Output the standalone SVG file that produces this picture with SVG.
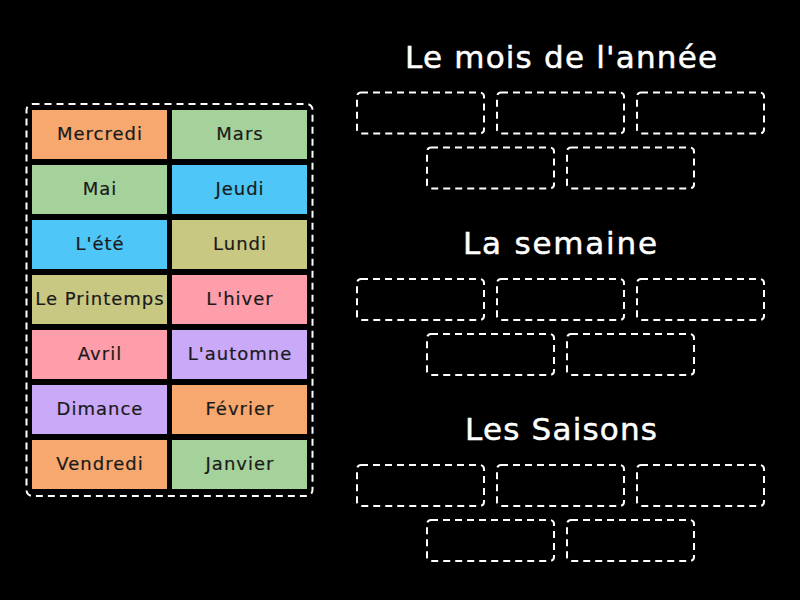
<svg xmlns="http://www.w3.org/2000/svg" width="800" height="600" viewBox="0 0 800 600">
<style>
.bg{fill:#000}
.cell text{font-family:"DejaVu Sans","Noto Sans",sans-serif;font-size:18px;letter-spacing:1px;fill:#1a1a1a;stroke:#1a1a1a;stroke-width:0.2;text-anchor:middle}
.drop{fill:none;stroke:#fff;stroke-width:2;stroke-dasharray:7 5}
.title{font-family:"DejaVu Sans","Noto Sans",sans-serif;font-size:31px;fill:#fff;stroke:#fff;stroke-width:0.5;text-anchor:middle}
.o{fill:#f6a86f}.g{fill:#a4d29a}.b{fill:#4ec6f7}.y{fill:#c9c882}.p{fill:#fe9eab}.v{fill:#c9a9f8}
</style>
<rect class="bg" x="0" y="0" width="800" height="600"/>
<g id="tray">
<rect class="drop" x="26.5" y="104" width="286" height="392" rx="6"/>
</g>
<g id="c1" class="cell"><rect class="o" x="32" y="110" width="135" height="49"/><text x="100" y="140">Mercredi</text></g>
<g id="c2" class="cell"><rect class="g" x="172" y="110" width="135" height="49"/><text x="240" y="140">Mars</text></g>
<g id="c3" class="cell"><rect class="g" x="32" y="165" width="135" height="49"/><text x="100" y="195">Mai</text></g>
<g id="c4" class="cell"><rect class="b" x="172" y="165" width="135" height="49"/><text x="240" y="195">Jeudi</text></g>
<g id="c5" class="cell"><rect class="b" x="32" y="220" width="135" height="49"/><text x="100" y="250">L'été</text></g>
<g id="c6" class="cell"><rect class="y" x="172" y="220" width="135" height="49"/><text x="240" y="250">Lundi</text></g>
<g id="c7" class="cell"><rect class="y" x="32" y="275" width="135" height="49"/><text x="100" y="305">Le Printemps</text></g>
<g id="c8" class="cell"><rect class="p" x="172" y="275" width="135" height="49"/><text x="240" y="305">L'hiver</text></g>
<g id="c9" class="cell"><rect class="p" x="32" y="330" width="135" height="49"/><text x="100" y="360">Avril</text></g>
<g id="c10" class="cell"><rect class="v" x="172" y="330" width="135" height="49"/><text x="240" y="360">L'automne</text></g>
<g id="c11" class="cell"><rect class="v" x="32" y="385" width="135" height="49"/><text x="100" y="415">Dimance</text></g>
<g id="c12" class="cell"><rect class="o" x="172" y="385" width="135" height="49"/><text x="240" y="415">Février</text></g>
<g id="c13" class="cell"><rect class="o" x="32" y="440" width="135" height="49"/><text x="100" y="470">Vendredi</text></g>
<g id="c14" class="cell"><rect class="g" x="172" y="440" width="135" height="49"/><text x="240" y="470">Janvier</text></g>

<g id="group1">
<text class="title" x="561" y="68" textLength="312" lengthAdjust="spacing">Le mois de l'année</text>
<rect class="drop" x="357" y="92.5" width="127" height="41" rx="4"/>
<rect class="drop" x="497" y="92.5" width="127" height="41" rx="4"/>
<rect class="drop" x="637" y="92.5" width="127" height="41" rx="4"/>
<rect class="drop" x="427" y="147.5" width="127" height="41" rx="4"/>
<rect class="drop" x="567" y="147.5" width="127" height="41" rx="4"/>
</g>
<g id="group2">
<text class="title" x="560" y="254" textLength="194" lengthAdjust="spacing">La semaine</text>
<rect class="drop" x="357" y="279" width="127" height="41" rx="4"/>
<rect class="drop" x="497" y="279" width="127" height="41" rx="4"/>
<rect class="drop" x="637" y="279" width="127" height="41" rx="4"/>
<rect class="drop" x="427" y="334" width="127" height="41" rx="4"/>
<rect class="drop" x="567" y="334" width="127" height="41" rx="4"/>
</g>
<g id="group3">
<text class="title" x="561" y="440" textLength="192" lengthAdjust="spacing">Les Saisons</text>
<rect class="drop" x="357" y="465" width="127" height="41" rx="4"/>
<rect class="drop" x="497" y="465" width="127" height="41" rx="4"/>
<rect class="drop" x="637" y="465" width="127" height="41" rx="4"/>
<rect class="drop" x="427" y="520" width="127" height="41" rx="4"/>
<rect class="drop" x="567" y="520" width="127" height="41" rx="4"/>
</g>
</svg>
